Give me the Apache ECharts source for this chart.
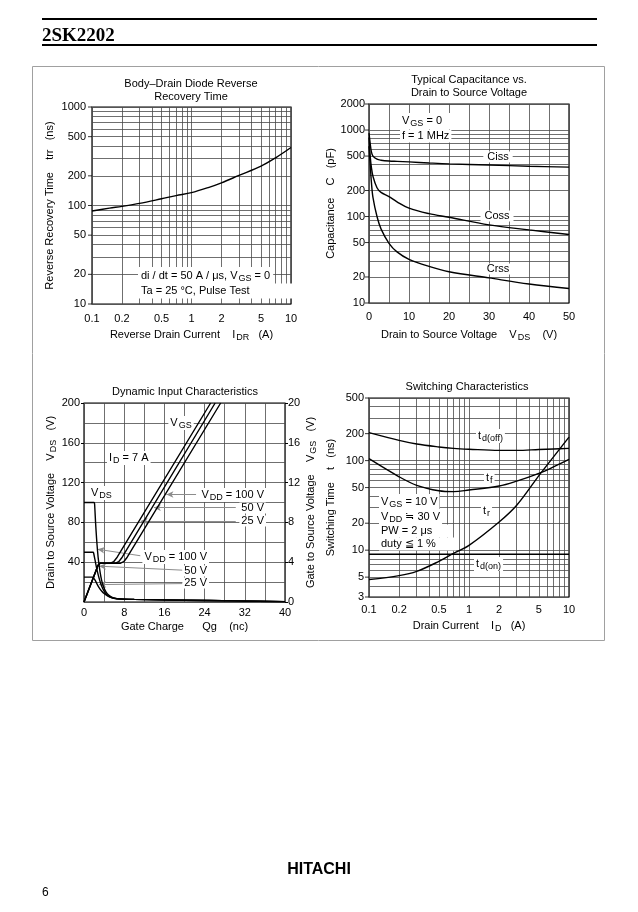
<!DOCTYPE html>
<html>
<head>
<meta charset="utf-8">
<title>2SK2202</title>
<script src="https://cdn.jsdelivr.net/npm/echarts@6.0.0/dist/echarts.min.js"></script>
<style>
  html, body { margin: 0; padding: 0; background: #fff; }
  #chart { width: 638px; height: 912px; }
</style>
</head>
<body>
<div id="chart"></div>
<script>
// ---------- data ----------
// Body-drain diode reverse recovery time
const trrCurrent = [0.1, 0.15, 0.2, 0.3, 0.5, 0.7, 1, 1.5, 2, 3, 5, 7, 10];
const trrTime    = [88, 94, 98, 105, 117, 126, 135, 153, 170, 202, 251, 305, 388];

// Typical capacitance vs VDS
const capVds = [0, 0.3, 0.6, 1, 2, 3, 5, 7, 10, 15, 20, 30, 40, 50];
const ciss   = [920, 700, 560, 500, 460, 448, 438, 434, 428, 416, 406, 394, 382, 372];
const coss   = [820, 500, 370, 290, 215, 190, 170, 148, 125, 108, 98, 80, 70, 62];
const crss   = [650, 400, 250, 165, 100, 72, 49, 39, 32, 26.5, 23, 19.5, 16.6, 14.7];

// Dynamic input characteristics (Qg in nC)
const qgVds100 = [0, 2.0, 2.1, 2.3, 2.5, 2.7, 2.9, 3.2, 3.5, 3.9, 4.4, 4.9, 5.5, 6.3, 8, 10, 20, 30, 40];
const vds100   = [100, 100, 99, 80, 64, 51, 41, 30, 22, 15, 10, 7, 5, 3.6, 2.9, 2.6, 1.8, 1.1, 0.4];
const qgVds50  = [0, 1.8, 1.9, 2.2, 2.6, 3.0, 3.5, 4.0, 4.6, 5.2, 6.0, 7.0, 10, 20, 30, 40];
const vds50    = [50, 50, 49.5, 42, 32, 24, 16, 11, 7, 5, 3.6, 3, 2.6, 1.8, 1.1, 0.4];
const qgVds25  = [0, 1.8, 1.9, 2.2, 2.6, 3.0, 3.5, 4.0, 4.6, 5.2, 6.0, 7.0, 10, 20, 30, 40];
const vds25    = [25, 25, 24.8, 22, 18, 14.5, 11, 8.5, 6.5, 5, 3.8, 3, 2.6, 1.8, 1.1, 0.4];
const qgVgs25  = [0, 2.8, 3.2, 5.3, 5.9, 6.6, 25.2];
const qgVgs50  = [0, 2.8, 3.2, 6.3, 6.9, 7.6, 26.1];
const qgVgs100 = [0, 2.8, 3.2, 7.3, 7.9, 8.6, 27.2];
const vgsLevels = [0, 3.7, 3.9, 3.9, 4.05, 4.5, 20];

// Switching characteristics
const swCurrent = [0.1, 0.2, 0.3, 0.5, 0.7, 1, 2, 3, 5, 7, 10];
const tdOff = [205, 168, 153, 142, 137, 134, 130, 130, 133, 135, 137];
const tf    = [105, 66, 53, 46, 45, 47, 52, 59, 72, 85, 103];
const tr    = [4.7, 5.2, 5.8, 7.5, 9.2, 11.3, 20.6, 31.7, 68, 110, 183];
const tdOnCurrent = [0.1, 10];
const tdOn  = [9, 9];

// grid lines and tick labels of the log axes
const logLinesA = [0.1, 0.2, 0.3, 0.4, 0.5, 0.6, 0.7, 0.8, 0.9, 1, 2, 3, 4, 5, 6, 7, 8, 9, 10];
const logTicksA = [0.1, 0.2, 0.5, 1, 2, 5, 10];
const trrLines  = [10, 20, 30, 40, 50, 60, 70, 80, 90, 100, 200, 300, 400, 500, 600, 700, 800, 900, 1000];
const trrTicks  = [10, 20, 50, 100, 200, 500, 1000];
const capLines  = [10, 20, 30, 40, 50, 60, 70, 80, 90, 100, 200, 300, 400, 500, 600, 700, 800, 900, 1000, 2000];
const capTicks  = [10, 20, 50, 100, 200, 500, 1000, 2000];
const swLines   = [3, 4, 5, 6, 7, 8, 9, 10, 20, 30, 40, 50, 60, 70, 80, 90, 100, 200, 300, 400, 500];
const swTicks   = [3, 5, 10, 20, 50, 100, 200, 500];

// ---------- helpers ----------
const FONT = '"Liberation Sans", Arial, Helvetica, sans-serif';
const GRID_COLOR = '#4a4a4a';
const RICH_EC = { sub: { fontFamily: FONT, fontSize: 9, color: '#000', padding: [5, 0, 0, 1] } };
const RICH_ZR = { sub: { fontFamily: FONT, fontSize: 9, fill: '#000', padding: [5, 0, 0, 1] } };

function pairs(xs, ys) {
  return xs.map((x, i) => [x, ys[i]]);
}

function tickLabel(v, ticks, dist) {
  if (ticks.indexOf(v) < 0) return { show: false };
  return { show: true, position: 'start', formatter: String(v), distance: dist,
           color: '#000', fontSize: 11, fontFamily: FONT };
}

// grid lines (and the labels of log axes) drawn as markLines on the axes' own scale
function gridMarks(xLines, xTicks, yLines, yTicks, xDist, yDist) {
  const data = [];
  xLines.forEach(v => data.push({ xAxis: v, label: tickLabel(v, xTicks, xDist) }));
  yLines.forEach(v => data.push({ yAxis: v, label: tickLabel(v, yTicks, yDist) }));
  return {
    silent: true, z: 1, animation: false, precision: 4,
    symbol: ['none', 'none'],
    label: { show: false },
    lineStyle: { color: GRID_COLOR, width: 0.8, type: 'solid' },
    emphasis: { disabled: true },
    data: data
  };
}

// short outside tick marks for the labelled values of a log y axis
function tickMarks(xMin, ticks, xi, yi) {
  return {
    type: 'scatter', xAxisIndex: xi, yAxisIndex: yi, z: 2, silent: true, clip: false,
    data: ticks.map(v => [xMin, v]),
    symbol: 'rect', symbolSize: [4, 1], symbolOffset: [-2, 0],
    itemStyle: { color: '#000' }
  };
}

function curve(xs, ys, xi, yi, extra) {
  return Object.assign({
    type: 'line', xAxisIndex: xi, yAxisIndex: yi, z: 3,
    data: pairs(xs, ys),
    showSymbol: false, symbol: 'none', silent: true,
    lineStyle: { color: '#000', width: 1.4 },
    smooth: 0.35
  }, extra || {});
}

function note(x, y, text, align, bg, pad) {
  return {
    type: 'text', x: x, y: y, z: 2, silent: true,
    style: {
      text: text, fontFamily: FONT, fontSize: 11, fill: '#000',
      align: align || 'left', verticalAlign: 'middle',
      backgroundColor: bg === false ? 'transparent' : '#fff', padding: pad || [0, 2],
      rich: RICH_ZR
    }
  };
}

const nameStyle = { fontFamily: FONT, fontSize: 11, color: '#000', rich: RICH_EC };
const valueLabel = { color: '#000', fontSize: 11, fontFamily: FONT };
const splitStyle = { show: true, lineStyle: { color: GRID_COLOR, width: 0.8 } };
const outTick = { show: true, length: 3, inside: false, lineStyle: { color: '#000', width: 1 } };

function logAxis(gridIndex, min, max, extra) {
  return Object.assign({
    gridIndex: gridIndex, type: 'log', logBase: 10, min: min, max: max,
    axisLine: { show: false }, axisTick: { show: false },
    axisLabel: { show: false }, splitLine: { show: false },
    nameLocation: 'middle', nameTextStyle: nameStyle
  }, extra);
}

function valueAxis(gridIndex, min, max, interval, extra) {
  return Object.assign({
    gridIndex: gridIndex, type: 'value', min: min, max: max, interval: interval,
    axisLine: { show: false }, axisTick: { show: false },
    axisLabel: Object.assign({ margin: 8 }, valueLabel),
    splitLine: splitStyle,
    minorTick: { show: false, splitNumber: 2 },
    minorSplitLine: splitStyle,
    nameLocation: 'middle', nameTextStyle: nameStyle
  }, extra);
}

const gridBase = { show: true, borderColor: '#000', borderWidth: 1.2, backgroundColor: 'transparent',
                   containLabel: false, outerBoundsMode: 'none' };

// ---------- chart ----------
const chart = echarts.init(document.getElementById('chart'), null, { renderer: 'canvas' });

const option = {
  animation: false,
  backgroundColor: '#fff',
  textStyle: { fontFamily: FONT },
  grid: [
    Object.assign({ left: 92, top: 107, width: 199, height: 197 }, gridBase),
    Object.assign({ left: 369, top: 104, width: 200, height: 199 }, gridBase),
    Object.assign({ left: 84, top: 403, width: 201, height: 199 }, gridBase),
    Object.assign({ left: 369, top: 398, width: 200, height: 199 }, gridBase)
  ],
  xAxis: [
    logAxis(0, 0.1, 10, { name: 'Reverse Drain Current    I{sub|DR}   (A)', nameGap: 24 }),
    valueAxis(1, 0, 50, 10, { name: 'Drain to Source Voltage    V{sub|DS}    (V)', nameGap: 25 }),
    valueAxis(2, 0, 40, 8, { name: 'Gate Charge      Qg    (nc)', nameGap: 19,
                              axisLabel: Object.assign({ margin: 5 }, valueLabel) }),
    logAxis(3, 0.1, 10, { name: 'Drain Current    I{sub|D}   (A)', nameGap: 22 })
  ],
  yAxis: [
    logAxis(0, 10, 1000, { name: 'Reverse Recovery Time    trr   (ns)', nameRotate: 90, nameGap: 37 }),
    logAxis(1, 10, 2000, { name: 'Capacitance    C   (pF)', nameRotate: 90, nameGap: 33 }),
    valueAxis(2, 0, 200, 40, { name: 'Drain to Source Voltage    V{sub|DS}   (V)', nameRotate: 90, nameGap: 24,
                               axisTick: outTick,
                               axisLabel: Object.assign({ margin: 4, showMinLabel: false }, valueLabel) }),
    valueAxis(2, 0, 20, 4, { position: 'right', name: 'Gate to Source Voltage    V{sub|GS}   (V)',
                             nameRotate: 90, nameGap: 19, axisTick: outTick,
                             splitLine: { show: false }, minorSplitLine: { show: false },
                             axisLabel: Object.assign({ margin: 3 }, valueLabel) }),
    logAxis(3, 3, 500, { name: 'Switching Time    t   (ns)', nameRotate: 90, nameGap: 33 })
  ],
  series: [
    // chart 1
    curve(trrCurrent, trrTime, 0, 0, { markLine: gridMarks(logLinesA, logTicksA, trrLines, trrTicks, 9, 6) }),
    tickMarks(0.1, trrTicks, 0, 0),
    // chart 2
    curve(capVds, ciss, 1, 1, { markLine: gridMarks([], [], capLines, capTicks, 6, 4) }),
    curve(capVds, coss, 1, 1),
    curve(capVds, crss, 1, 1),
    tickMarks(0, capTicks, 1, 1),
    // chart 3
    curve(qgVds100, vds100, 2, 2, {
      smooth: 0.25,
      markLine: {
        silent: true, z: 1.5, animation: false,
        symbol: ['none', 'arrow'], symbolSize: [5, 7],
        label: { show: false },
        lineStyle: { color: '#8c8c8c', width: 1, type: 'solid' },
        emphasis: { disabled: true },
        data: [
          [{ coord: [22.3, 108] }, { coord: [16.4, 108] }],
          [{ coord: [30.2, 94.8] }, { coord: [13.9, 94.8] }],
          [{ coord: [30.2, 81.5] }, { coord: [11.3, 81.5] }],
          [{ coord: [11.2, 46.5] }, { coord: [2.7, 53] }],
          [{ coord: [19.6, 32] }, { coord: [3.0, 36] }],
          [{ coord: [19.6, 18.5] }, { coord: [3.0, 17.5] }]
        ]
      }
    }),
    curve(qgVds50, vds50, 2, 2, { smooth: 0.25 }),
    curve(qgVds25, vds25, 2, 2, { smooth: 0.25 }),
    curve(qgVgs100, vgsLevels, 2, 3, { smooth: false }),
    curve(qgVgs50, vgsLevels, 2, 3, { smooth: false }),
    curve(qgVgs25, vgsLevels, 2, 3, { smooth: false }),
    // chart 4
    curve(swCurrent, tdOff, 3, 4, { markLine: gridMarks(logLinesA, logTicksA, swLines, swTicks, 7, 5) }),
    curve(swCurrent, tf, 3, 4),
    curve(swCurrent, tr, 3, 4),
    curve(tdOnCurrent, tdOn, 3, 4, { smooth: false }),
    tickMarks(0.1, swTicks, 3, 4)
  ],
  graphic: {
    elements: [
      // page header
      { type: 'line', silent: true, shape: { x1: 42, y1: 19, x2: 597, y2: 19 }, style: { stroke: '#000', lineWidth: 2 } },
      { type: 'text', silent: true, x: 42, y: 36,
        style: { text: '2SK2202', fontFamily: '"Liberation Serif", "Times New Roman", serif', fontWeight: 'bold',
                 fontSize: 19, fill: '#000', align: 'left', verticalAlign: 'middle' } },
      { type: 'line', silent: true, shape: { x1: 42, y1: 45, x2: 597, y2: 45 }, style: { stroke: '#000', lineWidth: 2 } },
      // frame around the four graphs
      { type: 'rect', silent: true, shape: { x: 32.5, y: 66.5, width: 572, height: 574 },
        style: { fill: 'none', stroke: '#a0a0a0', lineWidth: 1 } },

      // titles
      note(191, 84, 'Body\u2013Drain Diode Reverse', 'center', false),
      note(191, 97, 'Recovery Time', 'center', false),
      note(469, 80, 'Typical Capacitance vs.', 'center', false),
      note(469, 93, 'Drain to Source Voltage', 'center', false),
      note(185, 392, 'Dynamic Input Characteristics', 'center', false),
      note(467, 387, 'Switching Characteristics', 'center', false),

      // chart 1 conditions
      note(138, 276, 'di / dt = 50 A / \u03bcs, V{sub|GS} = 0', 'left', true, [2, 3]),
      note(138, 291, 'Ta = 25 \u00b0C, Pulse Test              ', 'left', true, [2, 3]),

      // chart 2 conditions and curve names
      note(400, 121, 'V{sub|GS} = 0  ', 'left', true, [1, 2]),
      note(400, 136, 'f = 1 MHz', 'left', true, [1, 2]),
      note(498, 157, 'Ciss', 'center', true, [0, 4]),
      note(497, 216, 'Coss', 'center', true, [0, 4]),
      note(498, 269, 'Crss', 'center', true, [0, 4]),

      // chart 3 labels
      note(181, 423, 'V{sub|GS}', 'center'),
      note(107, 458, 'I{sub|D} = 7 A'),
      note(89, 493, 'V{sub|DS}'),
      note(266, 495, 'V{sub|DD} = 100 V', 'right'),
      note(266, 508, '50 V', 'right'),
      note(266, 521, '25 V', 'right'),
      note(209, 557, 'V{sub|DD} = 100 V', 'right'),
      note(209, 571, '50 V', 'right'),
      note(209, 583, '25 V', 'right'),

      // chart 4 labels
      note(476, 436, 't{sub|d(off)}'),
      note(484, 478, 't{sub|f}'),
      note(481, 511, 't{sub|r}'),
      note(474, 564, 't{sub|d(on)}'),
      note(379, 502, 'V{sub|GS} = 10 V', 'left', true, [1, 2]),
      note(379, 517, 'V{sub|DD} \u2252 30 V', 'left', true, [1, 2]),
      note(379, 531, 'PW = 2 \u03bcs      ', 'left', true, [1, 2]),
      note(379, 544, 'duty \u2266 1 %      ', 'left', true, [1, 2]),

      // page footer
      { type: 'text', silent: true, x: 319, y: 870,
        style: { text: 'HITACHI', fontFamily: FONT, fontWeight: 'bold', fontSize: 16, fill: '#000',
                 align: 'center', verticalAlign: 'middle' } },
      { type: 'text', silent: true, x: 42, y: 893,
        style: { text: '6', fontFamily: FONT, fontSize: 12, fill: '#000', align: 'left', verticalAlign: 'middle' } }
    ]
  }
};

chart.setOption(option);
</script>
</body>
</html>
